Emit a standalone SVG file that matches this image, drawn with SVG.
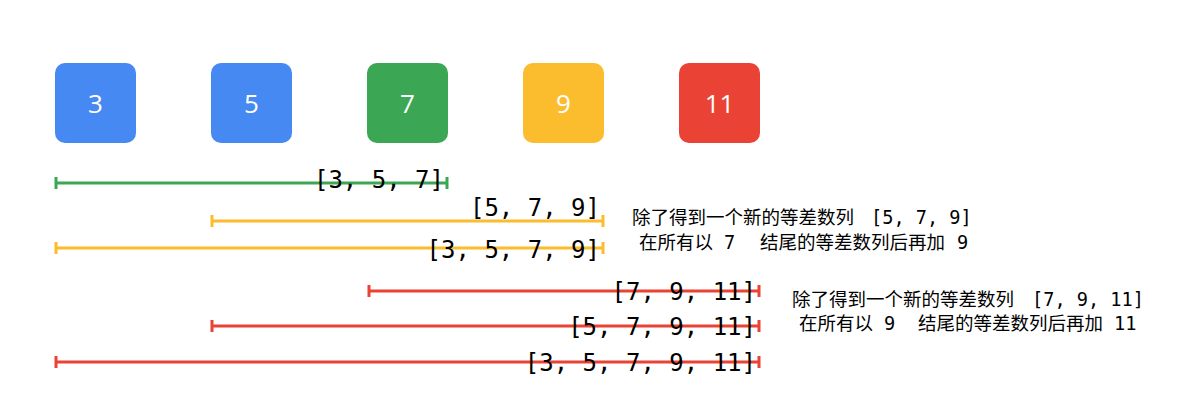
<svg xmlns="http://www.w3.org/2000/svg" width="1196" height="414" viewBox="0 0 1196 414">
<style>
.box{stroke:none}
.nt{fill:#fff;font-family:"Open Sans","Noto Sans",sans-serif;font-size:26px;text-anchor:middle;dominant-baseline:central}
.seq{fill:#000;font-family:"DejaVu Sans Mono","Liberation Mono",monospace;font-size:24px;text-anchor:end}
.note{fill:#000;font-family:"Noto Sans CJK SC","Noto Sans",sans-serif;font-size:18.5px}
.m{font-family:"DejaVu Sans Mono","Liberation Mono",monospace;font-size:18.6px}
.g{stroke:#3ba755;stroke-width:3;fill:none}
.y{stroke:#fbbc2e;stroke-width:3;fill:none}
.r{stroke:#ea4335;stroke-width:3;fill:none}
</style>
<rect width="1196" height="414" fill="#fff"/>
<g id="n3"><rect class="box" x="55" y="63" width="81" height="80" rx="10" fill="#4689f2"/><text class="nt" x="95.5" y="103">3</text></g>
<g id="n5"><rect class="box" x="211" y="63" width="81" height="80" rx="10" fill="#4689f2"/><text class="nt" x="251.5" y="103">5</text></g>
<g id="n7"><rect class="box" x="367" y="63" width="81" height="80" rx="10" fill="#3ba755"/><text class="nt" x="407.5" y="103">7</text></g>
<g id="n9"><rect class="box" x="523" y="63" width="81" height="80" rx="10" fill="#fbbc2e"/><text class="nt" x="563.5" y="103">9</text></g>
<g id="n11"><rect class="box" x="679" y="63" width="81" height="80" rx="10" fill="#ea4335"/><text class="nt" x="719.5" y="103">11</text></g>
<g id="connectors">
<path class="g" d="M56 183H447M56 177V189M447 177V189"/>
<path class="y" d="M212 221H603M212 215V227M603 215V227"/>
<path class="y" d="M56 248H603M56 242V254M603 242V254"/>
<path class="r" d="M369 291H759M369 285V297M759 285V297"/>
<path class="r" d="M212 326H759M212 320V332M759 320V332"/>
<path class="r" d="M56 362H759M56 356V368M759 356V368"/>
</g>
<g id="labels">
<text class="seq" x="444" y="188">[3, 5, 7]</text>
<text class="seq" x="600" y="216">[5, 7, 9]</text>
<text class="seq" x="600" y="258">[3, 5, 7, 9]</text>
<text class="seq" x="756" y="300">[7, 9, 11]</text>
<text class="seq" x="756" y="335">[5, 7, 9, 11]</text>
<text class="seq" x="756" y="371">[3, 5, 7, 9, 11]</text>
</g>
<g id="note1">
<text class="note" x="632" y="224">除了得到一个新的等差数列<tspan class="m" x="871">[5, 7, 9]</tspan></text>
<text class="note" x="639" y="249">在所有以<tspan class="m" x="724">7</tspan><tspan x="760">结尾的等差数列后再加</tspan><tspan class="m" x="957">9</tspan></text>
</g>
<g id="note2">
<text class="note" x="792" y="306">除了得到一个新的等差数列<tspan class="m" x="1032">[7, 9, 11]</tspan></text>
<text class="note" x="799" y="330">在所有以<tspan class="m" x="884">9</tspan><tspan x="918">结尾的等差数列后再加</tspan><tspan class="m" x="1114">11</tspan></text>
</g>
</svg>
